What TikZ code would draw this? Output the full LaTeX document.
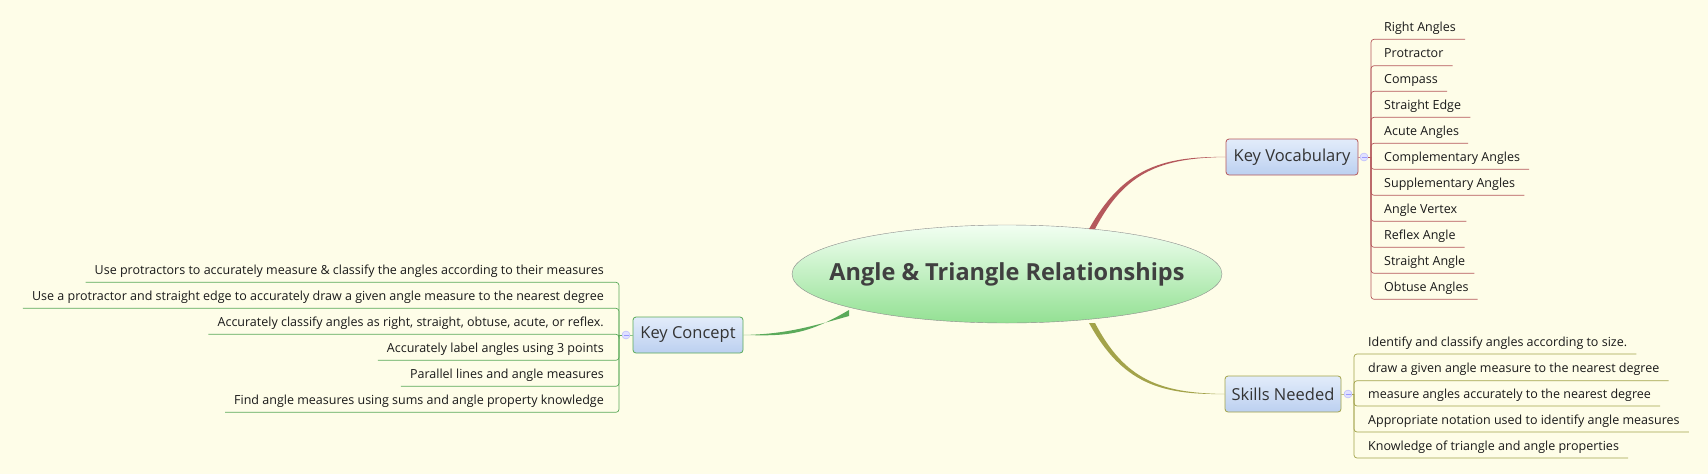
\documentclass[tikz,border=0pt]{standalone}
\usepackage{fontspec}
\setmainfont{Open Sans}
\usetikzlibrary{shapes.geometric}
\begin{document}
\begin{tikzpicture}[x=1pt,y=-1pt,
  leaf/.style={inner sep=0pt,font=\fontsize{12.5}{14}\selectfont,text=black!90},
  topic/.style={rounded corners=3pt,draw=#1,line width=0.8pt,top color=boxtop,bottom color=boxbot,minimum height=36pt,inner xsep=5pt,font=\fontsize{16.5}{18}\selectfont,text=black!80},
  colc/.style={circle,draw=blue!30,fill=blue!12,inner sep=0pt,minimum size=8pt},
]
\definecolor{bg}{HTML}{FEFDE8}
\definecolor{boxtop}{HTML}{E2ECFA}
\definecolor{boxbot}{HTML}{BCD0F0}
\definecolor{cred}{HTML}{B5585C}
\definecolor{cgreen}{HTML}{5AAA5A}
\definecolor{colive}{HTML}{A3A34A}
\fill[bg] (0,0) rectangle (1708,474);
\useasboundingbox (0,0) rectangle (1708,474);
% central
\node[ellipse,minimum width=430pt,minimum height=98pt,draw=black!45,top color=green!5,bottom color=green!35!cgreen!55,inner sep=0pt] (c) at (1007,274) {};
\node[font=\bfseries\fontsize{23.5}{26}\selectfont,text=black!75] (ct) at (1007,274) {Angle \& Triangle Relationships};
% topics
\node[topic=cred,minimum width=132pt] (kv) at (1292,157) {Key Vocabulary};
\node[topic=colive,minimum width=116pt] (sn) at (1283,394) {Skills Needed};
\node[topic=cgreen,minimum width=110pt] (kc) at (688,335) {Key Concept};
% main connectors (tapered)
\coordinate (kvs) at (1092,229);
\coordinate (sns) at (1092,323);
\coordinate (kcs) at (849,313);
\fill[cred] ([xshift=-3]kvs) .. controls (1122,170) and (1160,156) .. (kv.west) .. controls (1160,158) and (1125,172) .. ([xshift=3]kvs) -- cycle;
\fill[colive] ([xshift=-3]sns) .. controls (1122,383) and (1160,395) .. (sn.west) .. controls (1160,393) and (1125,380) .. ([xshift=3]sns) -- cycle;
\fill[cgreen] ([yshift=-3]kcs) .. controls (800,330) and (780,334) .. (kc.east) .. controls (785,336) and (805,336) .. ([yshift=3]kcs) -- cycle;
% collapse circles
\node[colc] (kvc) at (1364,157) {}; \draw[blue!40,line width=0.5pt] (1361.5,157) -- (1366.5,157);
\node[colc] (snc) at (1348,394) {}; \draw[blue!40,line width=0.5pt] (1345.5,394) -- (1350.5,394);
\node[colc] (kcc) at (626,335) {}; \draw[blue!40,line width=0.5pt] (623.5,335) -- (628.5,335);
\draw[cred!70,line width=0.5pt] (kv.east) -- (kvc.west);
\draw[colive!70,line width=0.5pt] (sn.east) -- (snc.west);
\draw[cgreen!70,line width=0.5pt] (kc.west) -- (kcc.east);
\coordinate (kvj) at (1371,157);
\coordinate (snj) at (1354,394);
\coordinate (kcj) at (619,335);
\draw[cred,line width=0.6pt] (kvc.east) -- (kvj);
\draw[colive,line width=0.6pt] (snc.east) -- (snj);
\draw[cgreen,line width=0.6pt] (kcc.west) -- (kcj);
% leaves
\newcommand\rleaf[6]{% name, x, yline, text, junction, color
  \node[leaf,anchor=base west] (#1) at (#2,#3-8) {#4};
  \draw[#6,line width=0.7pt,rounded corners=3pt] (#5) |- ([xshift=9]#1.east |- 0,#3);
}
\newcommand\lleaf[6]{%
  \node[leaf,anchor=base east] (#1) at (#2,#3-8) {#4};
  \draw[#6,line width=0.7pt,rounded corners=3pt] (#5) |- ([xshift=-9]#1.west |- 0,#3);
}
\rleaf{v1}{1384}{39.3}{Right Angles}{kvj}{cred}
\rleaf{v2}{1384}{65.7}{Protractor}{kvj}{cred}
\rleaf{v3}{1384}{91.3}{Compass}{kvj}{cred}
\rleaf{v4}{1384}{117.3}{Straight Edge}{kvj}{cred}
\rleaf{v5}{1384}{143.3}{Acute Angles}{kvj}{cred}
\rleaf{v6}{1384}{169.3}{Complementary Angles}{kvj}{cred}
\rleaf{v7}{1384}{195.3}{Supplementary Angles}{kvj}{cred}
\rleaf{v8}{1384}{221.3}{Angle Vertex}{kvj}{cred}
\rleaf{v9}{1384}{247.3}{Reflex Angle}{kvj}{cred}
\rleaf{v10}{1384}{273.3}{Straight Angle}{kvj}{cred}
\rleaf{v11}{1384}{299.3}{Obtuse Angles}{kvj}{cred}
\rleaf{s1}{1368}{354}{Identify and classify angles according to size.}{snj}{colive}
\rleaf{s2}{1368}{380.7}{draw a given angle measure to the nearest degree}{snj}{colive}
\rleaf{s3}{1368}{406}{measure angles accurately to the nearest degree}{snj}{colive}
\rleaf{s4}{1368}{432}{Appropriate notation used to identify angle measures}{snj}{colive}
\rleaf{s5}{1368}{458}{Knowledge of triangle and angle properties}{snj}{colive}
\lleaf{k1}{604}{282.3}{Use protractors to accurately measure \& classify the angles according to their measures}{kcj}{cgreen}
\lleaf{k2}{604}{308.3}{Use a protractor and straight edge to accurately draw a given angle measure to the nearest degree}{kcj}{cgreen}
\lleaf{k3}{604}{334.3}{Accurately classify angles as right, straight, obtuse, acute, or reflex.}{kcj}{cgreen}
\lleaf{k4}{604}{360.3}{Accurately label angles using 3 points}{kcj}{cgreen}
\lleaf{k5}{604}{386.3}{Parallel lines and angle measures}{kcj}{cgreen}
\lleaf{k6}{604}{412.3}{Find angle measures using sums and angle property knowledge}{kcj}{cgreen}
\end{tikzpicture}
\end{document}
